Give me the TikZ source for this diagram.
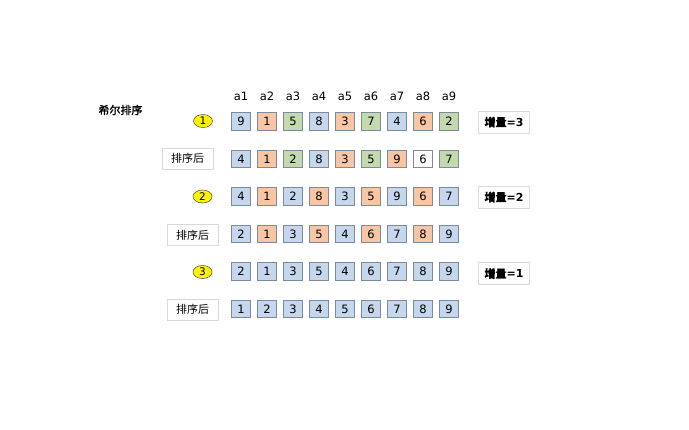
\documentclass[tikz,border=0pt]{standalone}
\usepackage{fontspec}
\usetikzlibrary{shapes.geometric}
\setmainfont{DejaVu Sans}
\newfontfamily\cjk{Noto Sans CJK SC}
\newfontfamily\cjkb[FakeBold=1.5]{Noto Sans CJK SC}
\begin{document}
\begin{tikzpicture}[x=1pt,y=-1pt,
  cell/.style={draw=boxline, line width=0.8pt, minimum width=18.5pt, minimum height=17.5pt, inner sep=0pt, font=\fontsize{11.5}{13}\selectfont},
  bl/.style={cell, fill=cblue},
  or/.style={cell, fill=corange},
  gr/.style={cell, fill=cgreen},
  wh/.style={cell, fill=white},
  lab/.style={draw=labline, line width=0.6pt, fill=white, minimum width=51pt, minimum height=21pt, inner sep=0pt, font=\cjk\fontsize{11}{12}\selectfont},
  inc/.style={draw=labline, line width=0.6pt, fill=white, minimum width=51pt, minimum height=22pt, inner sep=0pt, font=\fontsize{11}{12}\selectfont\bfseries},
  stepmark/.style={draw=black!70, line width=0.5pt, fill=yellow, ellipse, minimum width=19pt, minimum height=13pt, inner sep=0pt, font=\fontsize{10.5}{12}\selectfont},
  collab/.style={font=\fontsize{11.5}{13}\selectfont, inner sep=0pt}
]
\definecolor{cblue}{HTML}{C6D6EC}
\definecolor{corange}{HTML}{F8C6A4}
\definecolor{cgreen}{HTML}{C4D9AE}
\definecolor{boxline}{HTML}{7D8A9C}
\definecolor{labline}{HTML}{D9D9D9}
\useasboundingbox (0,0) rectangle (689,429);
\fill[white] (0,0) rectangle (689,429);

\node[font=\cjkb\fontsize{11}{13}\selectfont, inner sep=0pt] (title) at (120.5,110) {希尔排序};

% column labels
\foreach \i in {1,...,9} {
  \node[collab] (h\i) at ({241+26*(\i-1)},96) {a\i};
}

% rows: values and styles
\newcommand\cellrow[3]{%
  \foreach \v/\s [count=\i] in {#3} {
    \node[\s] (#1-\i) at ({241+26*(\i-1)},#2) {\v};
  }%
}
\cellrow{r1}{121.5}{9/bl,1/or,5/gr,8/bl,3/or,7/gr,4/bl,6/or,2/gr}
\cellrow{r2}{159}{4/bl,1/or,2/gr,8/bl,3/or,5/gr,9/or,6/wh,7/gr}
\cellrow{r3}{196.5}{4/bl,1/or,2/bl,8/or,3/bl,5/or,9/bl,6/or,7/bl}
\cellrow{r4}{234}{2/bl,1/or,3/bl,5/or,4/bl,6/or,7/bl,8/or,9/bl}
\cellrow{r5}{271.5}{2/bl,1/bl,3/bl,5/bl,4/bl,6/bl,7/bl,8/bl,9/bl}
\cellrow{r6}{309}{1/bl,2/bl,3/bl,4/bl,5/bl,6/bl,7/bl,8/bl,9/bl}

% step markers
\node[stepmark] (s1) at (203,121) {1};
\node[stepmark] (s2) at (202.5,196.5) {2};
\node[stepmark] (s3) at (202.5,272) {3};

% sorted labels
\node[lab] (l2) at (187.5,158.5) {排序后};
\node[lab] (l4) at (192.5,235) {排序后};
\node[lab] (l6) at (192.5,309.5) {排序后};

% increments
\node[inc] (i1) at (504,122) {{\cjkb 增量}=3};
\node[inc] (i2) at (504,197) {{\cjkb 增量}=2};
\node[inc] (i3) at (504,273.5) {{\cjkb 增量}=1};
\end{tikzpicture}
\end{document}
